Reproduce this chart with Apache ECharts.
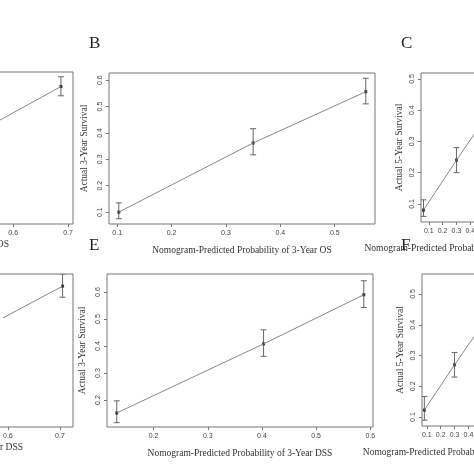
<!DOCTYPE html>
<html>
<head>
<meta charset="utf-8">
<script src="https://cdn.jsdelivr.net/npm/echarts@6/dist/echarts.min.js"></script>
<style>html,body{margin:0;padding:0;background:#fff}#chart{width:474px;height:474px}</style>
</head>
<body>
<div id="chart"></div>
<script>
// calibration points per panel: predicted, observed, error bar low/high
const aX = [0.14, 0.42, 0.687], aY = [0.11, 0.27, 0.575], aLo = [0.08, 0.23, 0.54], aHi = [0.14, 0.31, 0.612];
const bX = [0.103, 0.35, 0.557], bY = [0.10, 0.362, 0.556], bLo = [0.075, 0.317, 0.51], bHi = [0.135, 0.416, 0.607];
const cX = [0.062, 0.30, 0.50], cY = [0.08, 0.24, 0.37], cLo = [0.06, 0.20, 0.33], cHi = [0.113, 0.28, 0.41];
const dX = [0.15, 0.42, 0.705], dY = [0.13, 0.329, 0.622], dLo = [0.10, 0.29, 0.581], dHi = [0.16, 0.37, 0.667];
const eX = [0.132, 0.403, 0.588], eY = [0.152, 0.408, 0.59], eLo = [0.116, 0.362, 0.543], eHi = [0.197, 0.46, 0.642];
const fX = [0.082, 0.30, 0.50], fY = [0.123, 0.27, 0.40], fLo = [0.09, 0.23, 0.36], fHi = [0.167, 0.31, 0.44];

const xNames = ['Nomogram-Predicted Probability of 1-Year OS', 'Nomogram-Predicted Probability of 3-Year OS',
  'Nomogram-Predicted Probability of 5-Year OS', 'Nomogram-Predicted Probability of 1-Year DSS',
  'Nomogram-Predicted Probability of 3-Year DSS', 'Nomogram-Predicted Probability of 5-Year DSS'];
const yNames = ['Actual 1-Year Survival', 'Actual 3-Year Survival', 'Actual 5-Year Survival',
  'Actual 1-Year Survival', 'Actual 3-Year Survival', 'Actual 5-Year Survival'];

// cut: panel sits partly off the left edge of the picture
const panels = [
  { x: aX, y: aY, lo: aLo, hi: aHi, left: 0, top: 72, w: 73, h: 152, xr: [0.576, 0.709], yr: [0.055, 0.63], cut: true },
  { x: bX, y: bY, lo: bLo, hi: bHi, left: 109, top: 73, w: 266, h: 151, xr: [0.085, 0.574], yr: [0.055, 0.627] },
  { x: cX, y: cY, lo: cLo, hi: cHi, left: 421, top: 73, w: 266, h: 149, xr: [0.044, 0.524], yr: [0.042, 0.519] },
  { x: dX, y: dY, lo: dLo, hi: dHi, left: 0, top: 274, w: 73, h: 153, xr: [0.593, 0.725], yr: [0.1, 0.667], cut: true },
  { x: eX, y: eY, lo: eLo, hi: eHi, left: 107, top: 274, w: 266, h: 153, xr: [0.114, 0.605], yr: [0.1, 0.667] },
  { x: fX, y: fY, lo: fLo, hi: fHi, left: 422, top: 274, w: 266, h: 152, xr: [0.065, 0.545], yr: [0.071, 0.565] }
];

const serif = '"Liberation Serif", "DejaVu Serif", serif';
const nameStyle = { fontFamily: serif, fontSize: 9.5, color: '#333' };
const grid = [], xAxis = [], yAxis = [], series = [], graphic = [];

panels.forEach((p, i) => {
  grid.push({ left: p.left, top: p.top, width: p.w, height: p.h, show: !p.cut, borderColor: '#777', borderWidth: 1 });
  if (p.cut) {
    const r = p.left + p.w, t = p.top, b = p.top + p.h;
    graphic.push({ type: 'polyline', shape: { points: [[0, t], [r, t], [r, b], [0, b]] }, style: { stroke: '#777', fill: null, lineWidth: 1 } });
    graphic.push({ type: 'text', x: i === 0 ? 9 : 23, y: b + 20,
      style: { text: xNames[i], font: '9.5px ' + serif, fill: '#333', align: 'right', verticalAlign: 'middle' } });
  }
  const ax = {
    gridIndex: i, type: 'value', minInterval: 0.1, maxInterval: 0.1,
    axisLine: { show: false }, splitLine: { show: false },
    axisTick: { show: true, length: 3, lineStyle: { color: '#777' } },
    axisLabel: { fontSize: 7, color: '#444', margin: 6, showMinLabel: false, showMaxLabel: false }
  };
  xAxis.push(Object.assign({}, ax, { min: p.xr[0], max: p.xr[1], name: p.cut ? '' : xNames[i],
    nameLocation: 'middle', nameGap: 21, nameTextStyle: nameStyle }));
  yAxis.push(Object.assign({}, ax, { min: p.yr[0], max: p.yr[1], show: !p.cut, name: yNames[i],
    nameLocation: 'middle', nameGap: 17, nameTextStyle: nameStyle,
    axisLabel: Object.assign({}, ax.axisLabel, { rotate: 90, margin: 5 }) }));

  const pts = p.x.map((v, k) => [v, p.y[k]]);
  series.push({ type: 'line', xAxisIndex: i, yAxisIndex: i, data: pts, symbol: 'none', clip: true,
    lineStyle: { color: '#888', width: 1 }, silent: true });
  series.push({
    type: 'custom', xAxisIndex: i, yAxisIndex: i, clip: true,
    data: p.x.map((v, k) => [v, p.lo[k], p.hi[k]]),
    renderItem: (params, api) => {
      const a = api.coord([api.value(0), api.value(1)]);
      const b = api.coord([api.value(0), api.value(2)]);
      const st = { stroke: '#666', lineWidth: 1 };
      return { type: 'group', children: [
        { type: 'line', shape: { x1: a[0], y1: a[1], x2: b[0], y2: b[1] }, style: st },
        { type: 'line', shape: { x1: a[0] - 3, y1: a[1], x2: a[0] + 3, y2: a[1] }, style: st },
        { type: 'line', shape: { x1: b[0] - 3, y1: b[1], x2: b[0] + 3, y2: b[1] }, style: st }
      ] };
    }
  });
  series.push({ type: 'scatter', xAxisIndex: i, yAxisIndex: i, data: pts, symbol: 'rect', symbolSize: 3,
    itemStyle: { color: '#111' }, clip: true, silent: true });
});

const letter = (t, x, y) => ({ type: 'text', left: x, top: y, style: { text: t, font: '17px ' + serif, fill: '#222' } });
graphic.push(letter('B', 89, 35), letter('C', 401, 35), letter('E', 89, 237), letter('F', 401, 237));

const chart = echarts.init(document.getElementById('chart'));
chart.setOption({
  animation: false,
  backgroundColor: '#fff',
  grid, xAxis, yAxis, series, graphic
});
</script>
</body>
</html>
